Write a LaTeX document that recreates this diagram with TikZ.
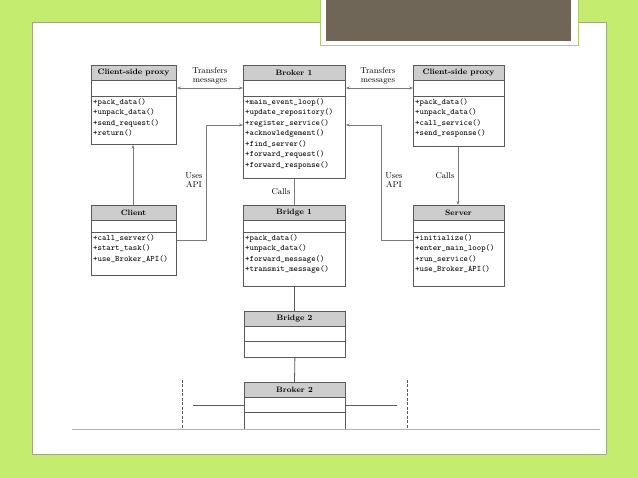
\documentclass[tikz,border=0pt]{standalone}
\usetikzlibrary{arrows.meta}
\definecolor{bg}{RGB}{196,236,110}
\definecolor{brown}{RGB}{112,102,88}
\definecolor{hdr}{RGB}{205,205,205}
\definecolor{ln}{RGB}{90,90,90}
\begin{document}
\begin{tikzpicture}[x=1pt,y=-1pt,
  box/.style={draw=ln,line width=0.8pt,anchor=north west,inner sep=0pt},
  hd/.style={font=\bfseries\fontsize{7.8}{8}\selectfont},
  mt/.style={anchor=north west,align=left,inner sep=0pt,font=\ttfamily\fontsize{8.3}{10.5}\selectfont},
  lb/.style={align=center,font=\fontsize{8.5}{9}\selectfont,inner sep=0pt},
  con/.style={draw=ln!80,line width=0.8pt},
  arr/.style={con,-{Stealth[length=4pt,width=3pt]}}]
\useasboundingbox (0,0) rectangle (638,478);
\fill[bg] (0,0) rectangle (638,478);
\fill[white] (32,23) rectangle (606,455);
\draw[gray!60!bg,line width=1pt] (32,23) rectangle (606,455);
\fill[white] (320,0) rectangle (578,46);
\draw[bg!70!gray,line width=1pt] (320,-2) rectangle (578,46);
\fill[brown] (326,0) rectangle (571,41);
\newcommand{\umlbox}[8]{%
  \fill[hdr] (#2,#3) rectangle ++(#4,15);
  \node[box,minimum width=#4pt,minimum height=#5pt] (#1) at (#2,#3) {};
  \draw[ln,line width=0.8pt] (#2,#3+15) -- ++(#4,0);
  \draw[ln,line width=0.8pt] (#2,#7) -- ++(#4,0);
  \node[hd] at (#2+#4/2,#3+7.5) {#6};
  \node[mt] at (#2+2,#7+2.5) {#8};
}
\umlbox{cspl}{91}{65}{85}{79}{Client-side proxy}{96}{+pack\_data()\\+unpack\_data()\\+send\_request()\\+return()}
\umlbox{br1}{243}{65}{102}{113}{Broker 1}{96}{+main\_event\_loop()\\+update\_repository()\\+register\_service()\\+acknowledgement()\\+find\_server()\\+forward\_request()\\+forward\_response()}
\umlbox{cspr}{413}{65}{91}{81}{Client-side proxy}{96}{+pack\_data()\\+unpack\_data()\\+call\_service()\\+send\_response()}
\umlbox{cl}{91}{205}{85}{70}{Client}{232}{+call\_server()\\+start\_task()\\+use\_Broker\_API()}
\umlbox{bg1}{243}{205}{102}{81}{Bridge 1}{232}{+pack\_data()\\+unpack\_data()\\+forward\_message()\\+transmit\_message()}
\umlbox{sv}{413}{205}{91}{81}{Server}{232}{+initialize()\\+enter\_main\_loop()\\+run\_service()\\+use\_Broker\_API()}
% Bridge 2
\fill[hdr] (244,311) rectangle (345,326);
\node[box,minimum width=101pt,minimum height=46pt] (bg2) at (244,311) {};
\draw[ln,line width=0.8pt] (244,326) -- (345,326) (244,341) -- (345,341);
\node[hd] at (294.5,318.5) {Bridge 2};
% Broker 2
\fill[hdr] (244,382) rectangle (345,397);
\draw[ln,line width=0.8pt] (244,430) -- (244,382) -- (345,382) -- (345,430);
\coordinate (br2) at (294.5,382);
\draw[ln,line width=0.8pt] (244,397) -- (345,397) (244,412) -- (345,412);
\node[hd] at (294.5,389.5) {Broker 2};
\coordinate (sl1) at (193,405); \coordinate (sl2) at (244,405);
\coordinate (sr1) at (345,405); \coordinate (sr2) at (397,405);
\draw[ln,line width=0.8pt] (sl1) -- (sl2) (sr1) -- (sr2);
\coordinate (dl1) at (182,380); \coordinate (dl2) at (182,430);
\coordinate (dr1) at (407,380); \coordinate (dr2) at (407,430);
\draw[ln,line width=0.8pt,dash pattern=on 3pt off 1.5pt] (dl1) -- (dl2) (dr1) -- (dr2);
\coordinate (bl1) at (72,430); \coordinate (bl2) at (600,430);
\draw[gray!60,line width=1pt] (bl1) -- (bl2);
% connectors
\draw[con,{Stealth[length=4pt,width=3pt]}-{Stealth[length=4pt,width=3pt]}] (cspl.east|-0,88) -- (br1.west|-0,88);
\draw[con,{Stealth[length=4pt,width=3pt]}-{Stealth[length=4pt,width=3pt]}] (br1.east|-0,88) -- (cspr.west|-0,88);
\node[lb] at (210,76) {Transfers\\messages};
\node[lb] at (378,76) {Transfers\\messages};
\draw[arr] (cl.north-|133,0) -- (cspl.south-|133,0);
\draw[arr] (cl.east|-0,240) -- (206,240) -- (206,125) -- (br1.west|-0,125);
\draw[arr] (sv.west|-0,240) -- (381,240) -- (381,125) -- (br1.east|-0,125);
\node[lb] at (194,180) {Uses\\API};
\node[lb] at (394,180) {Uses\\API};
\draw[arr] (cspr.south-|458,0) -- (sv.north-|458,0);
\node[lb] at (445,176) {Calls};
\draw[con] (br1.south-|294,0) -- (bg1.north-|294,0);
\node[lb] at (281,192) {Calls};
\draw[ln,line width=0.8pt] (bg1.south-|294.5,0) -- (bg2.north-|294.5,0);
\draw[ln,line width=0.8pt] (bg2.south) -- (br2);
\end{tikzpicture}
\end{document}
